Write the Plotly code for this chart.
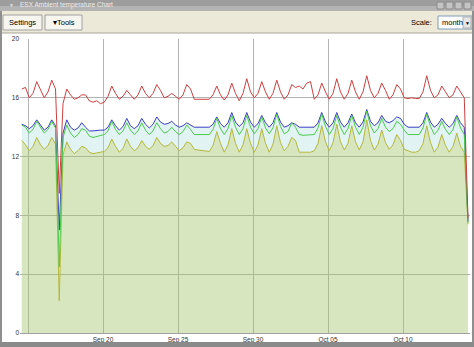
import plotly.graph_objects as go
import pandas as pd

# ---- data (6-hourly samples: 02,08,14,20h) ----
times = pd.date_range(start="2011-09-14 14:00", periods=120, freq="6h")

red = [16.6, 16.7,
       16.0, 16.3, 17.1, 16.5,  16.0, 16.4, 17.2, 16.6,  9.5, 15.6, 16.6, 16.2,
       15.9, 16.0, 16.2, 16.2,  15.8, 15.7, 15.8, 15.6,  15.7, 16.1, 16.8, 16.3,
       15.9, 16.1, 16.5, 16.2,  15.9, 16.2, 16.8, 16.3,  16.0, 16.3, 16.9, 16.5,
       16.0, 16.1, 16.3, 16.1,  15.9, 16.2, 16.9, 16.6,  15.9, 15.9, 15.9, 15.9,
       15.9, 16.2, 16.8, 16.2,  15.85, 16.2, 17.0, 16.3, 15.8, 16.3, 17.3, 16.4,
       16.0, 16.3, 17.1, 16.4,  15.9, 16.3, 17.2, 16.4,  15.9, 16.2, 16.9, 16.7,
       16.8, 16.6, 17.0, 17.1,  15.9, 16.2, 17.0, 16.4,  15.9, 16.3, 17.3, 16.4,
       15.9, 16.3, 17.2, 16.4,  15.9, 16.4, 17.5, 16.5,  16.0, 16.3, 17.0, 16.5,
       15.9, 16.2, 16.9, 16.6,  16.0, 15.95, 16.0, 15.95, 15.95, 16.4, 17.5, 16.5,
       16.0, 16.2, 16.8, 16.4,  16.0, 16.2, 16.8, 16.4,
       16.0, 7.8]

blue = [14.2, 14.1,
        13.9, 14.1, 14.5, 14.15, 13.8, 14.0, 14.5, 14.1,  7.0, 13.6, 14.5, 14.0,
        13.8, 13.95, 14.3, 14.0, 13.75, 13.75, 13.8, 13.8, 13.8, 14.0, 14.5, 14.1,
        13.8, 14.05, 14.6, 14.1, 13.9, 14.1, 14.6, 14.2,  13.95, 14.2, 14.7, 14.35,
        14.2, 14.25, 14.4, 14.15, 14.0, 14.1, 14.3, 14.15, 14.0, 14.0, 14.0, 14.0,
        14.0, 14.2, 14.7, 14.25, 14.0, 14.3, 15.0, 14.35, 14.05, 14.3, 15.0, 14.35,
        14.0, 14.25, 14.8, 14.3, 14.0, 14.3, 15.0, 14.35, 14.0, 14.1, 14.3, 14.2,
        14.0, 14.0, 14.0, 14.0,  14.0, 14.3, 15.0, 14.35, 14.0, 14.3, 15.0, 14.35,
        14.0, 14.3, 14.9, 14.3,  14.0, 14.35, 15.2, 14.4, 14.1, 14.3, 14.8, 14.4,
        14.3, 14.45, 14.7, 14.6, 14.2, 14.0, 14.0, 14.0,  14.0, 14.3, 15.0, 14.35,
        14.0, 14.2, 14.6, 14.25, 14.0, 14.25, 14.8, 14.3,
        14.0, 7.6]

green = [14.15, 14.0,
         13.6, 13.85, 14.4, 13.95, 13.6, 13.85, 14.4, 13.95, 4.5, 13.3, 14.15, 13.6,
         13.3, 13.5, 13.9, 13.8,  13.4, 13.3, 13.35, 13.4, 13.5, 13.75, 14.4, 13.85,
         13.5, 13.75, 14.3, 13.8, 13.5, 13.75, 14.3, 13.8, 13.5, 13.75, 14.3, 13.9,
         13.6, 13.7, 14.0, 13.7,  13.5, 13.7, 14.15, 13.85, 13.5, 13.5, 13.5, 13.5,
         13.5, 13.85, 14.6, 13.9, 13.5, 13.9, 14.8, 14.0,  13.5, 13.9, 14.8, 14.0,
         13.55, 13.9, 14.7, 13.95, 13.55, 13.95, 14.9, 14.05, 13.55, 13.7, 14.3, 14.0,
         13.5, 13.45, 13.45, 13.45, 13.5, 13.95, 14.9, 14.05, 13.5, 13.9, 14.8, 14.0,
         13.5, 13.9, 14.8, 14.0,  13.5, 14.0, 15.1, 14.1,  13.6, 13.9, 14.6, 14.0,
         13.7, 13.9, 14.4, 14.2,  13.8, 13.5, 13.5, 13.5,  13.5, 13.95, 14.9, 14.05,
         13.5, 13.8, 14.4, 13.85, 13.5, 13.85, 14.7, 13.95,
         13.5, 7.5]

yellow = [13.1, 12.8,
          12.4, 12.7, 13.3, 12.8,  12.5, 12.75, 13.3, 12.85, 2.2, 12.1, 13.0, 12.5,
          12.2, 12.4, 12.7, 12.6,  12.3, 12.2, 12.25, 12.3, 12.35, 12.6, 13.2, 12.7,
          12.3, 12.55, 13.2, 12.7, 12.4, 12.6, 13.1, 12.7,  12.5, 12.75, 13.3, 12.9,
          12.7, 12.75, 13.0, 12.7, 12.4, 12.6, 13.0, 12.9,  12.5, 12.45, 12.4, 12.4,
          12.35, 12.75, 13.7, 12.9, 12.3, 12.8, 13.9, 12.9,  12.3, 12.8, 13.9, 12.9,
          12.3, 12.8, 13.9, 12.9,  12.3, 12.85, 14.1, 12.95, 12.4, 12.7, 13.3, 13.1,
          12.3, 12.3, 12.3, 12.3,  12.4, 12.9, 14.1, 13.0,  12.4, 12.95, 14.2, 13.0,
          12.45, 12.9, 14.1, 13.0, 12.45, 13.0, 14.5, 13.1, 12.45, 12.85, 13.8, 12.95,
          12.5, 12.8, 13.5, 13.1,  12.5, 12.4, 12.3, 12.3,  12.4, 12.9, 14.1, 12.95,
          12.3, 12.65, 13.5, 12.75, 12.3, 12.7, 13.6, 12.7,
          12.3, 7.4]

x_tickvals = ["2011-09-15", "2011-09-20", "2011-09-25", "2011-09-30", "2011-10-05", "2011-10-10"]
x_ticktext = ["", "Sep 20", "Sep 25", "Sep 30", "Oct 05", "Oct 10"]
y_tickvals = [0, 4, 8, 12, 16, 20]

title_text = "ESX Ambient temperature Chart"

# ---- figure ----
fig = go.Figure()
fig.add_trace(go.Scatter(x=times, y=yellow, mode="lines",
                         line=dict(color="#b5b83a", width=1),
                         fill="tozeroy", fillcolor="rgba(160,196,100,0.42)"))
fig.add_trace(go.Scatter(x=times, y=blue, mode="lines",
                         line=dict(color="#3c3cc4", width=1),
                         fill="tonexty", fillcolor="rgba(170,220,222,0.35)"))
fig.add_trace(go.Scatter(x=times, y=green, mode="lines",
                         line=dict(color="#4ccc4c", width=1)))
fig.add_trace(go.Scatter(x=times, y=red, mode="lines",
                         line=dict(color="#cc4040", width=1)))

L, R, T, B = 20, 470, 39, 333
W, H = 474, 347


def X(px):
    return (px - L) / (R - L)


def Y(py):
    return (B - py) / (B - T)


shapes = []


def rect(x0, y0, x1, y1, fill, line=None, lw=0):
    shapes.append(dict(type="rect", xref="paper", yref="paper", x0=X(x0), x1=X(x1), y0=Y(y1), y1=Y(y0),
                       fillcolor=fill, line=dict(color=line or fill, width=lw), layer="above"))


# title bar
rect(0, 0, 474, 6, "#9d9d9d")
rect(0, 6, 474, 11, "#b3b3b3")
# toolbar
rect(0, 11, 474, 33, "#ece9d8")
rect(0, 32.5, 474, 33.5, "#a7a69c")
# buttons
rect(3, 15, 42, 30, "#f6f5ef", "#a0a0a0", 1)
rect(45, 15, 82, 30, "#f6f5ef", "#a0a0a0", 1)
# scale dropdown
rect(438, 16, 472, 29, "#ffffff", "#7f9db9", 1)
rect(463, 17, 471, 28, "#e6e6e6", "#b0b0b0", 1)
# title bar icons
for ix in [437, 446, 455, 464]:
    rect(ix, 2, ix + 7, 9, "#c4c4c4", "#8a8a8a", 1)
# window borders
rect(0, 11, 2, 347, "#8f8f8f")
rect(472, 11, 474, 347, "#8f8f8f")
rect(0, 342, 474, 347, "#8a8a8a")

ann = []


def text(px, py, s, size=7.5, color="#000000", anchor="center", family="Liberation Sans"):
    ann.append(dict(xref="paper", yref="paper", x=X(px), y=Y(py), text=s, showarrow=False,
                    xanchor=anchor, yanchor="middle", font=dict(size=size, color=color, family=family)))


text(11, 5.5, "▼", size=5, color="#e0e0e0")
text(18, 5.5, title_text, size=6.5, color="#eeeeee", anchor="left")
text(22.5, 23, "Settings", size=7.5)
text(63.5, 23, "▾Tools", size=7.5)
text(434, 23, "Scale:", size=7.5, anchor="right")
text(440, 22.5, "month", size=7.5, anchor="left")
text(467, 22.5, "▼", size=5)

fig.update_layout(
    width=W, height=H,
    margin=dict(l=L, r=W - R, t=T, b=H - B),
    paper_bgcolor="#ffffff", plot_bgcolor="#ffffff",
    showlegend=False,
    shapes=shapes, annotations=ann,
    xaxis=dict(type="date", range=["2011-09-14 11:12", "2011-10-14 11:12"],
               tickvals=x_tickvals, ticktext=x_ticktext,
               showgrid=True, gridcolor="#b4b4b4", gridwidth=1,
               showline=True, linecolor="#a0a0a0", linewidth=1,
               ticks="", tickfont=dict(size=6.5, color="#333333", family="Liberation Sans"),
               zeroline=False, fixedrange=True),
    yaxis=dict(range=[0, 20], tickvals=y_tickvals,
               showgrid=True, gridcolor="#b4b4b4", gridwidth=1,
               showline=False, zeroline=False, ticks="",
               tickfont=dict(size=6.5, color="#333333", family="Liberation Sans"),
               fixedrange=True),
)

fig.write_html("out.html", config={"displayModeBar": False})
